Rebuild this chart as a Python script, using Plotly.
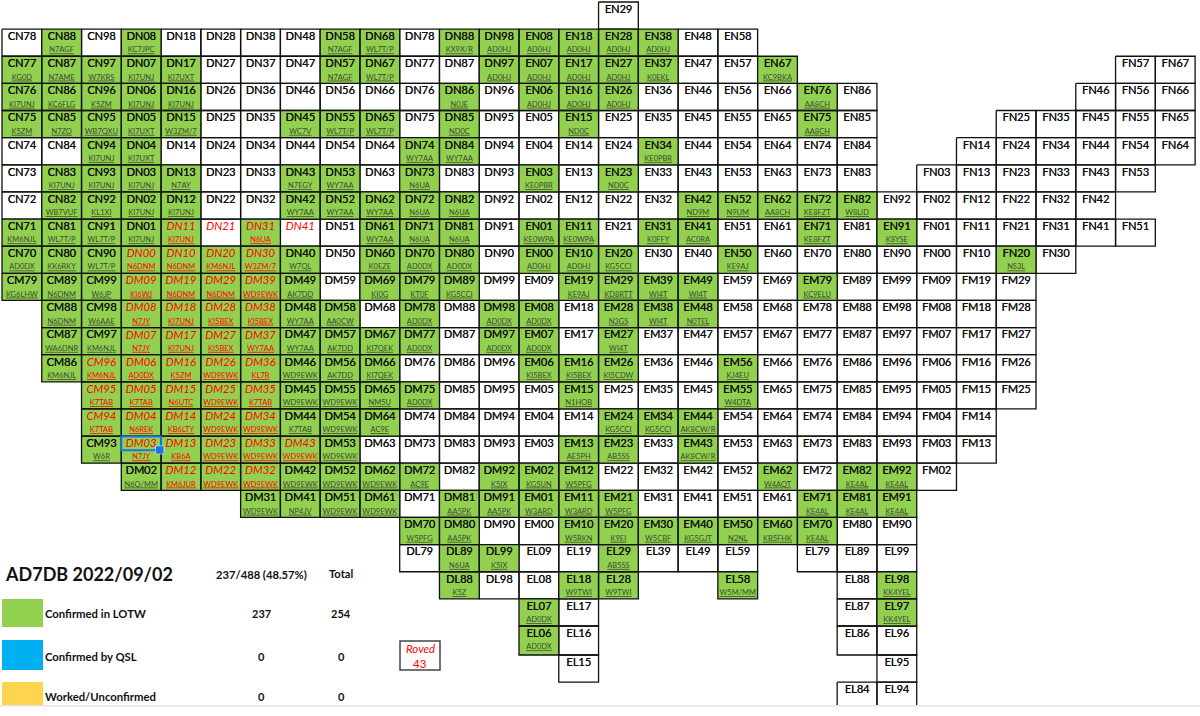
"""VUCC-style grid map for AD7DB, drawn as a grid-square table with Plotly."""

import plotly.graph_objects as go

# grid -> station confirmed through LOTW
CONFIRMED = {
    "CN88": "N7AGF", "DN08": "KC7JPC", "DN58": "N7AGF", "DN68": "WL7T/P", "DN88": "KX9X/R", "DN98": "AD0HJ",
    "EN08": "AD0HJ", "EN18": "AD0HJ", "EN28": "AD0HJ", "EN38": "AD0HJ",
    "CN77": "KG0D", "CN87": "N7AME", "CN97": "W7KRS", "DN07": "KI7UNJ", "DN17": "KI7UXT", "DN57": "N7AGF",
    "DN67": "WL7T/P", "DN97": "AD0HJ", "EN07": "AD0HJ", "EN17": "AD0HJ", "EN27": "AD0HJ", "EN37": "K0EKL",
    "EN67": "KC9BKA",
    "CN76": "KI7UNJ", "CN86": "KC6FLG", "CN96": "K5ZM", "DN06": "KI7UNJ", "DN16": "KI7UNJ", "DN86": "N0JE",
    "EN06": "AD0HJ", "EN16": "AD0HJ", "EN26": "AD0HJ", "EN76": "AA8CH",
    "CN75": "K5ZM", "CN85": "N7ZO", "CN95": "WB7QXU", "DN05": "KI7UXT", "DN15": "W3ZM/7", "DN45": "WC7V",
    "DN55": "WL7T/P", "DN65": "WL7T/P", "DN85": "ND0C", "EN15": "ND0C", "EN75": "AA8CH",
    "CN94": "KI7UNJ", "DN04": "KI7UXT", "DN74": "WY7AA", "DN84": "WY7AA", "EN34": "KE0PBR",
    "CN83": "KI7UNJ", "CN93": "KI7UNJ", "DN03": "KI7UNJ", "DN13": "N7AY", "DN43": "N7EGY", "DN53": "WY7AA",
    "DN73": "N6UA", "EN03": "KE0PBR", "EN23": "ND0C",
    "CN82": "WB7VUF", "CN92": "KL1XI", "DN02": "KI7UNJ", "DN12": "KI7UNJ", "DN42": "WY7AA", "DN52": "WY7AA",
    "DN62": "WY7AA", "DN72": "N6UA", "DN82": "N6UA", "EN42": "ND9M", "EN52": "N9UM", "EN62": "AA8CH",
    "EN72": "KE8FZT", "EN82": "W8LID",
    "CN71": "KM6NJL", "CN81": "WL7T/P", "CN91": "WL7T/P", "DN01": "KI7UNJ", "DN11": "KI7UNJ", "DN31": "N6UA",
    "DN61": "WY7AA", "DN71": "N6UA", "DN81": "N6UA", "EN01": "KE0WPA", "EN11": "KE0WPA", "EN31": "K0FFY",
    "EN41": "AC0RA", "EN71": "KE8FZT", "EN91": "K8YSE",
    "CN70": "AD0DX", "CN80": "KK6RKY", "CN90": "WL7T/P", "DN00": "N6DNM", "DN10": "N6DNM", "DN20": "KM6NJL",
    "DN30": "W3ZM/7", "DN40": "W7QL", "DN60": "K0EZE", "DN70": "AD0DX", "DN80": "AD0DX", "EN00": "AD0HJ",
    "EN10": "AD0HJ", "EN20": "KG5CCI", "EN50": "KE9AJ", "FN20": "NS3L",
    "CM79": "KG6LHW", "CM89": "N6DNM", "CM99": "W6JP", "DM09": "KI6WJ", "DM19": "N6DNM", "DM29": "N6DNM",
    "DM39": "WD9EWK", "DM49": "AK7DD", "DM69": "KI0G", "DM79": "KT0F", "DM89": "KG5CCI", "EM19": "KE9AJ",
    "EM29": "KD8RTT", "EM39": "WI4T", "EM49": "WI4T", "EM79": "KC9ELU",
    "CM88": "N6DNM", "CM98": "W6AAE", "DM08": "N7JY", "DM18": "KI7UNJ", "DM28": "KI5BEX", "DM38": "KI5BEX",
    "DM48": "WY7AA", "DM58": "AA0CW", "DM78": "AD0DX", "DM98": "AD0DX", "EM08": "AD0DX", "EM28": "N3GS",
    "EM38": "WI4T", "EM48": "N0TEL",
    "CM87": "WA6DNR", "CM97": "KM6NJL", "DM07": "N7JY", "DM17": "KI7UNJ", "DM27": "KI5BEX", "DM37": "WY7AA",
    "DM47": "WY7AA", "DM57": "AK7DD", "DM67": "KI7QEK", "DM77": "AD0DX", "DM97": "AD0DX", "EM07": "AD0DX",
    "EM27": "WI4T",
    "CM86": "KM6NJL", "CM96": "KM6NJL", "DM06": "AD0DX", "DM16": "K5ZM", "DM26": "WD9EWK", "DM36": "KL7R",
    "DM46": "WD9EWK", "DM56": "AK7DD", "DM66": "KI7QEK", "EM06": "KI5BEX", "EM16": "KI5BEX", "EM26": "KI5CDW",
    "EM56": "KJ4EU",
    "CM95": "K7TAB", "DM05": "K7TAB", "DM15": "N6UTC", "DM25": "WD9EWK", "DM35": "K7TAB", "DM45": "WD9EWK",
    "DM55": "WD9EWK", "DM65": "NM5U", "DM75": "AD0DX", "EM15": "N1HOB", "EM55": "W4DTA",
    "CM94": "K7TAB", "DM04": "N6REK", "DM14": "KB6LTY", "DM24": "WD9EWK", "DM34": "WD9EWK", "DM44": "K7TAB",
    "DM54": "WD9EWK", "DM64": "AC9E", "EM24": "KG5CCI", "EM34": "KG5CCI", "EM44": "AK8CW/R",
    "CM93": "W6R", "DM03": "N7JY", "DM13": "KB6A", "DM23": "WD9EWK", "DM33": "WD9EWK", "DM43": "WD9EWK",
    "DM53": "WD9EWK", "EM13": "AE5PH", "EM23": "AB5SS", "EM43": "AK8CW/R",
    "DM02": "N6O/MM", "DM12": "KM6JUR", "DM22": "WD9EWK", "DM32": "WD9EWK", "DM42": "WD9EWK", "DM52": "WD9EWK",
    "DM62": "WD9EWK", "DM72": "AC9E", "DM92": "K5IX", "EM02": "KG5UN", "EM12": "W5PFG", "EM62": "W4AQT",
    "EM82": "KE4AL", "EM92": "KE4AL",
    "DM31": "WD9EWK", "DM41": "NP4JV", "DM51": "WD9EWK", "DM61": "WD9EWK", "DM81": "AA5PK", "DM91": "AA5PK",
    "EM01": "W3ARD", "EM11": "W3ARD", "EM21": "W5PFG", "EM71": "KE4AL", "EM81": "KE4AL", "EM91": "KE4AL",
    "DM70": "W5PFG", "DM80": "AA5PK", "EM10": "W5RKN", "EM20": "K9EI", "EM30": "W5CBF", "EM40": "KG5GJT",
    "EM50": "N2NL", "EM60": "KB5FHK", "EM70": "KE4AL",
    "DL89": "N6UA", "DL99": "K5IX", "EL29": "AB5SS",
    "DL88": "K5Z", "EL18": "W9TWI", "EL28": "W9TWI", "EL58": "W5M/MM", "EL98": "KK4YEL",
    "EL07": "AD0DX", "EL97": "KK4YEL",
    "EL06": "AD0DX",
}

# grids not confirmed yet, row by row
OPEN_GRIDS = """
EN29
CN78 CN98 DN18 DN28 DN38 DN48 DN78 EN48 EN58
DN27 DN37 DN47 DN77 DN87 EN47 EN57 FN57 FN67
DN26 DN36 DN46 DN56 DN66 DN76 DN96 EN36 EN46 EN56 EN66 EN86 FN46 FN56 FN66
DN25 DN35 DN75 DN95 EN05 EN25 EN35 EN45 EN55 EN65 EN85 FN25 FN35 FN45 FN55 FN65
CN74 CN84 DN14 DN24 DN34 DN44 DN54 DN64 DN94 EN04 EN14 EN24 EN44 EN54 EN64 EN74 EN84 FN14 FN24 FN34 FN44 FN54 FN64
CN73 DN23 DN33 DN63 DN83 DN93 EN13 EN33 EN43 EN53 EN63 EN73 EN83 FN03 FN13 FN23 FN33 FN43 FN53
CN72 DN22 DN32 DN92 EN02 EN12 EN22 EN32 EN92 FN02 FN12 FN22 FN32 FN42
DN21 DN41 DN51 DN91 EN21 EN51 EN61 EN81 FN01 FN11 FN21 FN31 FN41 FN51
DN50 DN90 EN30 EN40 EN60 EN70 EN80 EN90 FN00 FN10 FN30
DM59 DM99 EM09 EM59 EM69 EM89 EM99 FM09 FM19 FM29
DM68 DM88 EM18 EM58 EM68 EM78 EM88 EM98 FM08 FM18 FM28
DM87 EM17 EM37 EM47 EM57 EM67 EM77 EM87 EM97 FM07 FM17 FM27
DM76 DM86 DM96 EM36 EM46 EM66 EM76 EM86 EM96 FM06 FM16 FM26
DM85 DM95 EM05 EM25 EM35 EM45 EM65 EM75 EM85 EM95 FM05 FM15 FM25
DM74 DM84 DM94 EM04 EM14 EM54 EM64 EM74 EM84 EM94 FM04 FM14
DM63 DM73 DM83 DM93 EM03 EM33 EM53 EM63 EM73 EM83 EM93 FM03 FM13
DM82 EM22 EM32 EM42 EM52 EM72 FM02
DM71 EM31 EM41 EM51 EM61
DM90 EM00 EM80 EM90
DL79 EL09 EL19 EL39 EL49 EL59 EL79 EL89 EL99
DL98 EL08 EL88
EL17 EL87
EL16 EL86 EL96
EL15 EL95
EL84 EL94
""".split()

# grids activated while roving (red italic)
ROVED = """
DN11 DN21 DN31 DN41 DN00 DN10 DN20 DN30 DM09 DM19 DM29 DM39 DM08 DM18 DM28 DM38
DM07 DM17 DM27 DM37 CM96 DM06 DM16 DM26 DM36 CM95 DM05 DM15 DM25 DM35
CM94 DM04 DM14 DM24 DM34 DM03 DM13 DM23 DM33 DM43 DM12 DM22 DM32
""".split()

TITLE = "AD7DB 2022/09/02"
SUMMARY = "237/488 (48.57%)"
TOTAL_HEADER = "Total"
LEGEND_LABELS = ["Confirmed in LOTW", "Confirmed by QSL", "Worked/Unconfirmed"]
LEGEND_COUNTS = [237, 0, 0]
LEGEND_TOTALS = [254, 0, 0]
ROVED_LABEL = "Roved"
ROVED_COUNT = len(ROVED)
SELECTED_CELL = "DM03"

GREEN = "#92D050"
BLUE = "#00B0F0"
YELLOW = "#FFD54F"
RED = "#FF0000"
FONT = "Lato"

WIDTH = 1200
HEIGHT = 716
COL_PX = 39.77
ROW_PX = 27.13
ORIGIN_PX = 2.0
TALL_ROW = 23  # the L6 row is a bit taller in the sheet
TALL_EXTRA = 0.07


def grid_col(grid):
    return (ord(grid[0]) - ord("C")) * 10 + int(grid[2]) - 7


def grid_row(grid):
    return (ord("N") - ord(grid[1])) * 10 + 9 - int(grid[3])


def row_top(row):
    return row + (TALL_EXTRA if row > TALL_ROW else 0)


def row_bottom(row):
    return row_top(row) + 1 + (TALL_EXTRA if row == TALL_ROW else 0)


def cell_path(grids):
    xs, ys = [], []
    for grid in grids:
        c, r = grid_col(grid), grid_row(grid)
        top, bottom = row_top(r), row_bottom(r)
        xs += [c, c + 1, c + 1, c, c, None]
        ys += [top, top, bottom, bottom, top, None]
    return xs, ys


def cell_trace(grids, fill):
    xs, ys = cell_path(grids)
    return go.Scatter(
        x=xs, y=ys, mode="lines", fill="toself", fillcolor=fill,
        line=dict(color="#111111", width=1.3), hoverinfo="skip", showlegend=False,
    )


def text_trace(grids, texts, offset, size, color, style="normal", shadow=None):
    font = dict(family=FONT, size=size, color=color, style=style)
    if shadow:
        font["shadow"] = shadow
    return go.Scatter(
        x=[grid_col(g) + 0.5 for g in grids],
        y=[row_top(grid_row(g)) + offset for g in grids],
        text=texts,
        mode="text",
        textposition="middle center",
        textfont=font,
        hoverinfo="skip",
        showlegend=False,
        cliponaxis=False,
    )


def px_note(x, y, text, size, color="#111111", anchor="center", weight="bold", style="normal"):
    return dict(
        x=x / WIDTH, y=1 - y / HEIGHT, xref="paper", yref="paper", text=text, showarrow=False,
        xanchor=anchor, yanchor="middle", borderpad=0, borderwidth=0,
        font=dict(family=FONT, size=size, color=color, weight=weight, style=style),
    )


def px_rect(x0, y0, x1, y1, fill, line=None, width=0, layer="above"):
    return dict(
        type="rect", xref="paper", yref="paper", x0=x0 / WIDTH, x1=x1 / WIDTH,
        y0=1 - y0 / HEIGHT, y1=1 - y1 / HEIGHT, fillcolor=fill, layer=layer,
        line=dict(color=line, width=width) if line else dict(width=0),
    )


confirmed = list(CONFIRMED)
plain_open = [g for g in OPEN_GRIDS if g not in ROVED]
red_open = [g for g in OPEN_GRIDS if g in ROVED]
plain_conf = [g for g in confirmed if g not in ROVED]
red_conf = [g for g in confirmed if g in ROVED]

fig = go.Figure()
fig.add_trace(cell_trace(OPEN_GRIDS, "#FFFFFF"))
fig.add_trace(cell_trace(confirmed, GREEN))

fig.add_trace(text_trace(plain_open + plain_conf, plain_open + plain_conf, 0.30, 11, "#111111",
                         shadow="0.25px 0 0 #111111"))
fig.add_trace(text_trace(red_open + red_conf, red_open + red_conf, 0.30, 11.3, RED, style="italic"))
fig.add_trace(text_trace(plain_conf, [f"<u>{CONFIRMED[g]}</u>" for g in plain_conf], 0.79, 7.5, "#3A4A30"))
fig.add_trace(text_trace(red_conf, [f"<u>{CONFIRMED[g]}</u>" for g in red_conf], 0.79, 7.5, RED))

# legend block and roved box sit outside the grid, placed in page pixels
shapes = [
    px_rect(2, 599, 43, 627, GREEN),
    px_rect(2, 640, 43, 670, BLUE),
    px_rect(2, 682, 43, 706, YELLOW),
    px_rect(400, 641, 440, 670, "#FFFFFF", "#444444", 1.5),
]
# selection cursor on the sheet
sel_c, sel_r = grid_col(SELECTED_CELL), grid_row(SELECTED_CELL)
shapes.append(dict(
    type="rect", xref="x", yref="y", x0=sel_c, x1=sel_c + 1, y0=sel_r + 0.02, y1=sel_r + 0.52,
    fillcolor="rgba(0,0,0,0)", line=dict(color="#1A73E8", width=2), layer="above",
))
shapes.append(dict(
    type="rect", xref="x", yref="y", x0=sel_c + 0.86, x1=sel_c + 1.07, y0=sel_r + 0.36, y1=sel_r + 0.66,
    fillcolor="#1A73E8", line=dict(color="#FFFFFF", width=0.5), layer="above",
))
# window edge: the screenshot stops here
shapes.append(px_rect(0, 705.5, WIDTH, HEIGHT, "#FFFFFF"))
shapes.append(px_rect(0, 705, WIDTH, 706.5, "#E3E3E3"))

annotations = [
    px_note(5, 574, TITLE, 18, anchor="left"),
    px_note(261, 574, SUMMARY, 11.2),
    px_note(341, 573.5, TOTAL_HEADER, 11.2),
    px_note(420, 648, ROVED_LABEL, 11.5, color=RED, weight="normal", style="italic"),
    px_note(420, 663, str(ROVED_COUNT), 11.5, color=RED, weight="normal"),
]
for label, count, total, y in zip(LEGEND_LABELS, LEGEND_COUNTS, LEGEND_TOTALS, [613, 656, 696]):
    annotations.append(px_note(45, y, label, 11.3, anchor="left"))
    annotations.append(px_note(261, y, str(count), 11))
    annotations.append(px_note(341, y, str(total), 11))

fig.update_layout(
    width=WIDTH,
    height=HEIGHT,
    margin=dict(l=0, r=0, t=0, b=0),
    paper_bgcolor="#FFFFFF",
    plot_bgcolor="#FFFFFF",
    shapes=shapes,
    annotations=annotations,
    xaxis=dict(range=[-ORIGIN_PX / COL_PX, (WIDTH - ORIGIN_PX) / COL_PX], visible=False, fixedrange=True),
    yaxis=dict(range=[(HEIGHT - ORIGIN_PX) / ROW_PX, -ORIGIN_PX / ROW_PX], visible=False, fixedrange=True),
)

fig.write_html("out.html", config={"displayModeBar": False}, post_script="document.body.style.margin='0';")
